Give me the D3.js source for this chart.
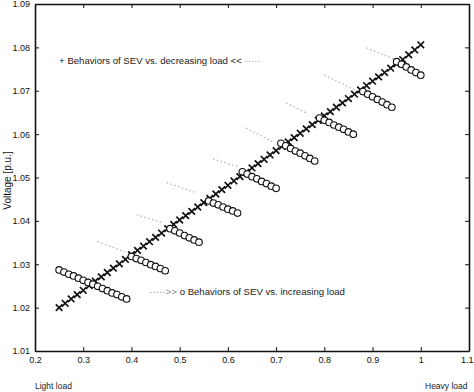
<!DOCTYPE html>
<html>
<head>
<meta charset="utf-8">
<script src="https://cdn.jsdelivr.net/npm/d3@7"></script>
<style>
  body { margin: 0; background: #fff; }
  svg { display: block; font-family: "Liberation Sans", Arial, sans-serif; }
  .axis text { font-size: 9px; fill: #111; }
  .axis path, .axis line { stroke: #111; }
</style>
</head>
<body>
<div id="chart"></div>
<script>
// decreasing load: crosses along the main curve
const decLoad = [0.25, 0.2625, 0.275, 0.2875, 0.30, 0.3125, 0.325, 0.3375, 0.35, 0.3625,
  0.375, 0.3875, 0.40, 0.4125, 0.425, 0.4375, 0.45, 0.4625, 0.475, 0.4875,
  0.50, 0.5125, 0.525, 0.5375, 0.55, 0.5625, 0.575, 0.5875, 0.60, 0.6125,
  0.625, 0.6375, 0.65, 0.6625, 0.675, 0.6875, 0.70, 0.7125, 0.725, 0.7375,
  0.75, 0.7625, 0.775, 0.7875, 0.80, 0.8125, 0.825, 0.8375, 0.85, 0.8625,
  0.875, 0.8875, 0.90, 0.9125, 0.925, 0.9375, 0.95, 0.9625, 0.975, 0.9875, 1.00];
const decVoltage = [1.0200, 1.0210, 1.0220, 1.0230, 1.0240, 1.0251, 1.0261, 1.0271, 1.0281, 1.0291,
  1.0301, 1.0311, 1.0322, 1.0332, 1.0342, 1.0352, 1.0362, 1.0372, 1.0382, 1.0392,
  1.0402, 1.0412, 1.0422, 1.0432, 1.0442, 1.0452, 1.0462, 1.0472, 1.0482, 1.0492,
  1.0502, 1.0512, 1.0522, 1.0532, 1.0542, 1.0552, 1.0562, 1.0572, 1.0582, 1.0592,
  1.0602, 1.0612, 1.0622, 1.0632, 1.0642, 1.0652, 1.0662, 1.0672, 1.0682, 1.0692,
  1.0702, 1.0712, 1.0722, 1.0732, 1.0742, 1.0752, 1.0762, 1.0772, 1.0783, 1.0794, 1.0806];

// increasing load: circle branches
const incLoad = [
  [0.25, 0.26, 0.27, 0.28, 0.29, 0.30, 0.31, 0.32, 0.33, 0.34, 0.35, 0.36, 0.37, 0.38, 0.39],
  [0.40, 0.41, 0.42, 0.43, 0.44, 0.45, 0.46, 0.47],
  [0.48, 0.49, 0.50, 0.51, 0.52, 0.53, 0.54],
  [0.56, 0.57, 0.58, 0.59, 0.60, 0.61, 0.62],
  [0.63, 0.64, 0.65, 0.66, 0.67, 0.68, 0.69, 0.70],
  [0.71, 0.72, 0.73, 0.74, 0.75, 0.76, 0.77, 0.78],
  [0.79, 0.80, 0.81, 0.82, 0.83, 0.84, 0.85, 0.86],
  [0.88, 0.89, 0.90, 0.91, 0.92, 0.93, 0.94],
  [0.95, 0.96, 0.97, 0.98, 0.99, 1.00]
];
const incVoltage = [
  [1.0287, 1.0282, 1.0277, 1.0273, 1.0268, 1.0263, 1.0258, 1.0254, 1.0249, 1.0244, 1.0239, 1.0234, 1.0230, 1.0225, 1.0220],
  [1.0318, 1.0313, 1.0309, 1.0304, 1.0299, 1.0295, 1.0290, 1.0285],
  [1.0382, 1.0377, 1.0372, 1.0366, 1.0361, 1.0356, 1.0351],
  [1.0446, 1.0441, 1.0437, 1.0432, 1.0427, 1.0423, 1.0418],
  [1.0513, 1.0508, 1.0502, 1.0497, 1.0491, 1.0486, 1.0480, 1.0475],
  [1.0579, 1.0573, 1.0567, 1.0561, 1.0556, 1.0550, 1.0544, 1.0538],
  [1.0637, 1.0632, 1.0627, 1.0621, 1.0616, 1.0611, 1.0605, 1.0600],
  [1.0698, 1.0692, 1.0686, 1.0680, 1.0674, 1.0668, 1.0662],
  [1.0767, 1.0761, 1.0755, 1.0748, 1.0742, 1.0736]
];

// faint grey traces ahead of each branch
const traceLoad = [[0.330, 0.386], [0.411, 0.466], [0.473, 0.535], [0.569, 0.624],
  [0.638, 0.693], [0.721, 0.762], [0.800, 0.863], [0.887, 0.949]];
const traceVoltage = [[1.0352, 1.0329], [1.0414, 1.0395], [1.0488, 1.0465], [1.0543, 1.0524],
  [1.0614, 1.0582], [1.0672, 1.0649], [1.0736, 1.0702], [1.0799, 1.0771]];

const xTicks = [0.2, 0.3, 0.4, 0.5, 0.6, 0.7, 0.8, 0.9, 1, 1.1];
const yTicks = [1.01, 1.02, 1.03, 1.04, 1.05, 1.06, 1.07, 1.08, 1.09];

const W = 474, H = 392;
const box = { left: 35, right: 469, top: 4, bottom: 351 };

const svg = d3.select("#chart").append("svg")
  .attr("width", W)
  .attr("height", H);

const x = d3.scaleLinear().domain([0.2, 1.1]).range([box.left, box.right]);
const y = d3.scaleLinear().domain([1.01, 1.09]).range([box.bottom, box.top]);

// axes with inward ticks
const xAxisG = svg.append("g").attr("class", "axis")
  .attr("transform", `translate(0,${box.bottom})`)
  .call(d3.axisBottom(x).tickValues(xTicks).tickFormat(d3.format("")).tickSizeInner(-4).tickSizeOuter(0).tickPadding(6));
// last label sits at the window edge: keep it inside
xAxisG.selectAll(".tick text").filter(d => d === 1.1)
  .attr("text-anchor", "end")
  .attr("x", 4);
svg.append("g").attr("class", "axis")
  .attr("transform", `translate(0,${box.top})`)
  .call(d3.axisTop(x).tickValues(xTicks).tickFormat("").tickSizeInner(-4).tickSizeOuter(0));
svg.append("g").attr("class", "axis")
  .attr("transform", `translate(${box.left},0)`)
  .call(d3.axisLeft(y).tickValues(yTicks).tickFormat(d3.format(".2f")).tickSizeInner(-4).tickSizeOuter(0).tickPadding(5));
svg.append("g").attr("class", "axis")
  .attr("transform", `translate(${box.right},0)`)
  .call(d3.axisRight(y).tickValues(yTicks).tickFormat("").tickSizeInner(-4).tickSizeOuter(0));

svg.selectAll(".axis .domain").attr("stroke-width", 1.6);

// grey traces
const line = d3.line().x(d => x(d[0])).y(d => y(d[1]));
svg.selectAll(".trace")
  .data(traceLoad.map((l, i) => l.map((v, j) => [v, traceVoltage[i][j]])))
  .enter().append("path")
  .attr("class", "trace")
  .attr("d", line)
  .attr("fill", "none")
  .attr("stroke", "#b4b4b4")
  .attr("stroke-width", 1.3)
  .attr("stroke-dasharray", "1.5,2.5");

// crosses
const cross = d3.symbol().type(d3.symbolTimes).size(30);
svg.selectAll(".dec")
  .data(decLoad.map((l, i) => [l, decVoltage[i]]))
  .enter().append("path")
  .attr("class", "dec")
  .attr("transform", d => `translate(${x(d[0])},${y(d[1])})`)
  .attr("d", cross)
  .attr("fill", "none")
  .attr("stroke", "#111")
  .attr("stroke-width", 1.7);

// circles
const incPoints = incLoad.flatMap((g, i) => g.map((l, j) => [l, incVoltage[i][j]]));
svg.selectAll(".inc")
  .data(incPoints)
  .enter().append("circle")
  .attr("class", "inc")
  .attr("cx", d => x(d[0]))
  .attr("cy", d => y(d[1]))
  .attr("r", 3.3)
  .attr("fill", "#fff")
  .attr("stroke", "#111")
  .attr("stroke-width", 1.1);

// annotations
const t1 = svg.append("text")
  .attr("x", x(0.25))
  .attr("y", y(1.0762))
  .attr("font-size", 9.6)
  .attr("fill", "#222");
t1.append("tspan").text("+ Behaviors of SEV vs. decreasing load   <<");
t1.append("tspan").attr("fill", "#999").text(" ·····");

const t2 = svg.append("text")
  .attr("x", x(0.438))
  .attr("y", y(1.0229))
  .attr("font-size", 9.6)
  .attr("fill", "#222");
t2.append("tspan").attr("fill", "#888").text("·····>> ");
t2.append("tspan").text("o Behaviors of SEV vs. increasing load");

svg.append("text")
  .attr("transform", `translate(11,${(box.top + box.bottom) / 2 + 3}) rotate(-90)`)
  .attr("text-anchor", "middle")
  .attr("font-size", 10)
  .attr("fill", "#111")
  .text("Voltage [p.u.]");

// captions under the axis
svg.append("text").attr("x", 35).attr("y", 389).attr("font-size", 8.5).attr("fill", "#222").text("Light load");
svg.append("text").attr("x", 425).attr("y", 389).attr("font-size", 8.5).attr("fill", "#222").text("Heavy load");
</script>
</body>
</html>
